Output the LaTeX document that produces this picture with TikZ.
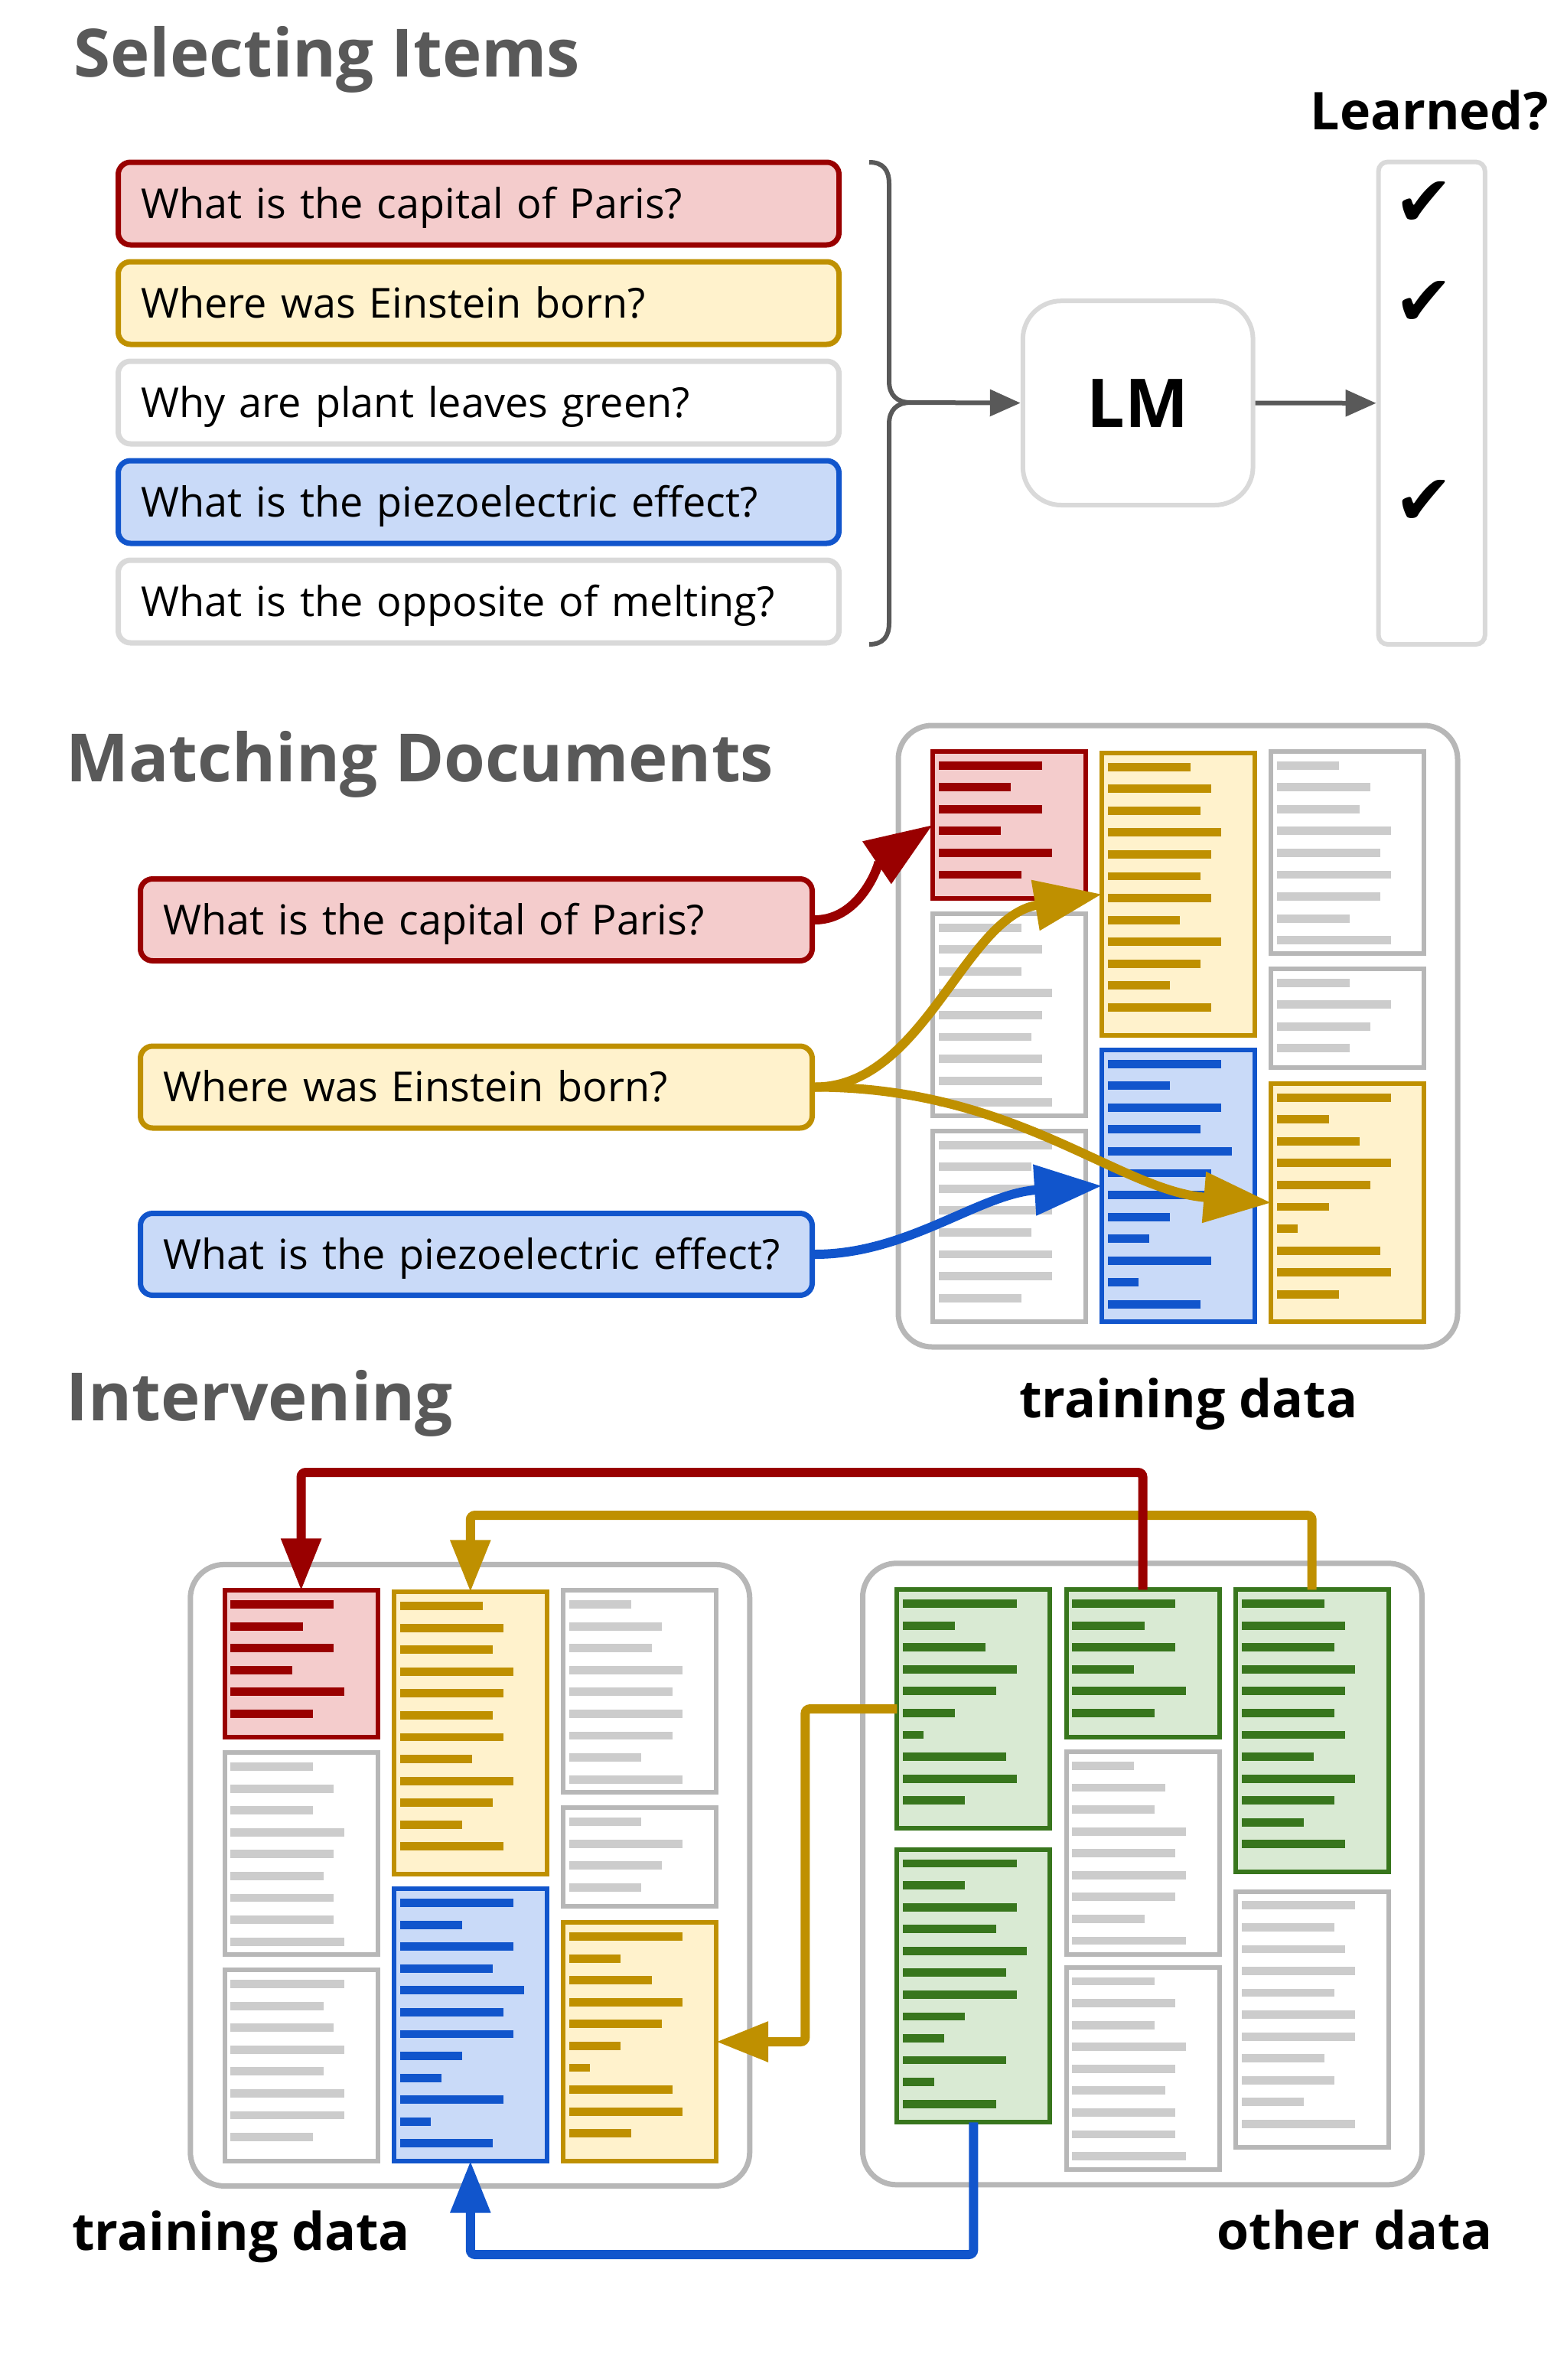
\documentclass[tikz,border=0pt]{standalone}
\usepackage{fontspec}
\setmainfont{Open Sans}
\newfontfamily\checkfont{DejaVu Sans}
\usetikzlibrary{arrows.meta}
\begin{document}
\begin{tikzpicture}[x=1pt, y=-1pt,
  title/.style={anchor=base west, inner sep=0pt, text=titlegray, font=\fontsize{43.5}{52}\selectfont\bfseries},
  caption/.style={anchor=base west, inner sep=0pt, font=\fontsize{34}{40}\selectfont\bfseries},
  item/.style={draw=#1line, fill=#1fill, line width=3.5pt, rounded corners=8pt, anchor=west, minimum height=54pt, inner xsep=15pt, text height=19.3pt, text depth=0pt, align=left, font=\fontsize{27}{32}\selectfont},
  panel/.style={draw=grayline, line width=3.5pt, rounded corners=22pt, anchor=north west, minimum width=365.5pt, minimum height=406pt, inner sep=0pt, outer sep=0pt},
  doc/.style={draw=#1line, fill=#1fill, line width=3pt, anchor=north west, minimum width=100pt, inner sep=0pt, outer sep=0pt},
  lmarrow/.style={draw=arrowgray, line width=3pt, -{Triangle[length=20pt, width=17pt]}},
  matcharrow/.style={draw=#1line, line width=6pt, -{Triangle[length=44pt, width=32pt]}},
  swaparrow/.style={draw=#1line, line width=6pt, rounded corners=3pt, -{Triangle[length=34pt, width=25pt]}}]
\definecolor{titlegray}{HTML}{595959}
\definecolor{arrowgray}{HTML}{595959}
\definecolor{redline}{HTML}{990000}
\definecolor{redfill}{HTML}{F4CCCC}
\definecolor{redbar}{HTML}{990000}
\definecolor{yellowline}{HTML}{BF9000}
\definecolor{yellowfill}{HTML}{FFF2CC}
\definecolor{yellowbar}{HTML}{BF9000}
\definecolor{blueline}{HTML}{1155CC}
\definecolor{bluefill}{HTML}{C9DAF8}
\definecolor{bluebar}{HTML}{1155CC}
\definecolor{greenline}{HTML}{38761D}
\definecolor{greenfill}{HTML}{D9EAD3}
\definecolor{greenbar}{HTML}{38761D}
\definecolor{grayline}{HTML}{B7B7B7}
\definecolor{grayfill}{HTML}{FFFFFF}
\definecolor{graybar}{HTML}{CCCCCC}
\definecolor{whiteline}{HTML}{D9D9D9}
\definecolor{whitefill}{HTML}{FFFFFF}
\useasboundingbox (0,0) rectangle (1024,1555);

\node[title] (seltitle) at (48,50.2) {Selecting Items};
\node[caption, anchor=base] (learned) at (934,84.6) {Learned?};
\foreach \txt/\kind [count=\i] in {What is the capital of Paris?/red, Where was Einstein born?/yellow, Why are plant leaves green?/white, What is the piezoelectric effect?/blue, What is the opposite of melting?/white}
  \node[item=\kind, text width=441pt] (s\i) at (75.5,{133+65*(\i-1)}) {\mbox{\txt}};
\draw[draw=arrowgray, line width=3pt] (568,106) .. controls (577,106) and (581,111) .. (581,120) -- (581,249) .. controls (581,258) and (586,263) .. (595,263) .. controls (586,263) and (581,268) .. (581,277) -- (581,407) .. controls (581,416) and (577,421) .. (568,421);
\coordinate (brace) at (595,263);
\node[draw=whiteline, line width=3pt, rounded corners=25pt, minimum width=150.4pt, minimum height=133.4pt, text height=31.4pt, text depth=0pt, font=\fontsize{44}{50}\selectfont\bfseries] (lm) at (743.6,263.3) {LM};
\node[draw=whiteline, line width=3pt, rounded corners=6pt, minimum width=69.6pt, minimum height=315.2pt] (col) at (935.6,263.4) {};
\draw[lmarrow] (brace) -- (lm.west);
\draw[lmarrow] (lm.east) -- (col.west);
\foreach \j in {1,2,4}
  \node[font=\checkfont\fontsize{46}{50}\selectfont] (chk\j) at ([xshift=-5pt]col.center |- s\j.center) {✔};

\node[title] (mattitle) at (43,510.8) {Matching Documents};
\foreach \txt/\kind [count=\i] in {What is the capital of Paris?/red, Where was Einstein born?/yellow, What is the piezoelectric effect?/blue}
  \node[item=\kind, text width=409pt, minimum height=53.5pt] (q\i) at (90,{601+109.25*(\i-1)}) {\mbox{\txt}};

\foreach \pf/\ox/\oy in {m/587/474, t/124.4/1022.2} {
  \node[panel] (\pf panel) at (\ox,\oy) {};
  \foreach \nm/\c/\ya/\h/\kind/\bars in {red/0/17/96/red/{10,7,10,6,11,8}, gra/0/123/132/gray/{8,10,8,11,10,9,10,10,11}, grb/0/265/124.6/gray/{11,9,10,11,9,11,11,8}, yea/1/18/184.5/yellow/{8,10,9,11,10,9,10,7,11,9,6,10}, blue/1/212/177.6/blue/{11,6,11,9,12,10,11,6,4,10,3,9}, grc/2/17/132/gray/{6,9,8,11,10,11,10,7,11}, grd/2/159/64.5/gray/{7,11,9,7}, yeb/2/234/155.6/yellow/{11,5,8,11,9,5,2,10,11,6}} {
    \node[doc=\kind, minimum height=\h pt] (\pf\nm) at ({\ox+22.4+110.6*\c},{\oy+\ya}) {};
    \foreach \len [count=\i] in \bars
      \fill[color=\kind bar] (\pf\nm.north west) ++(3.9,{6.4+(\i-1)*14.28}) rectangle ++({\len*6.75},5.4);
  }
}
\node[caption] (mcap) at (666,926) {training data};

\draw[matcharrow=red] (q1.east) .. controls +(31,0) and +(-34,23) .. (mred.west);
\draw[matcharrow=yellow] (q2.east) .. controls +(71,0) and +(-90,15) .. (myea.west);
\draw[matcharrow=yellow] (q2.east) .. controls +(131,0) and +(-100,-8) .. (myeb.west);
\draw[matcharrow=blue] (q3.east) .. controls +(61,0) and +(-80,5) .. (mblue.west);

\node[title] (inttitle) at (43,928.2) {Intervening};
\node[panel] (opanel) at (563.75,1021.4) {};
\foreach \nm/\c/\ya/\h/\kind/\bars in {oa/0/17.3/155.7/green/{11,5,8,11,9,5,2,10,11,6}, ob/0/187/178.3/green/{11,6,11,9,12,10,11,6,4,10,3,9}, oc/1/17.3/96.3/green/{10,7,10,6,11,8}, od/1/123.2/132.3/gray/{6,9,8,11,10,11,10,7,11}, oe/1/264/132.3/gray/{8,10,8,11,10,9,10,10,11}, of/2/17.3/184.5/green/{8,10,9,11,10,9,10,7,11,9,6,10}, og/2/214.4/167.2/gray/{11,9,10,11,9,11,11,8,9,6,11}} {
  \node[doc=\kind, minimum height=\h pt] (\nm) at ({563.75+22.4+110.6*\c},{1021.4+\ya}) {};
  \foreach \len [count=\i] in \bars
    \fill[color=\kind bar] (\nm.north west) ++(3.9,{6.4+(\i-1)*14.28}) rectangle ++({\len*6.75},5.4);
}
\node[caption] (tcap) at (47,1470) {training data};
\node[caption] (ocap) at (795,1469.5) {other data};

\coordinate (redlvl) at (0,962);
\coordinate (yellvl) at (0,990);
\coordinate (sidelvl) at (526.2,0);
\coordinate (bluelvl) at (0,1473);
\draw[swaparrow=yellow] (of.north) -- (of.north |- yellvl) -| (tyea.north);
\draw[swaparrow=red] (oc.north) -- (oc.north |- redlvl) -| (tred.north);
\draw[swaparrow=yellow] (oa.west) -- (oa.west -| sidelvl) |- (tyeb.east);
\draw[swaparrow=blue] (ob.south) -- (ob.south |- bluelvl) -| (tblue.south);
\end{tikzpicture}
\end{document}
